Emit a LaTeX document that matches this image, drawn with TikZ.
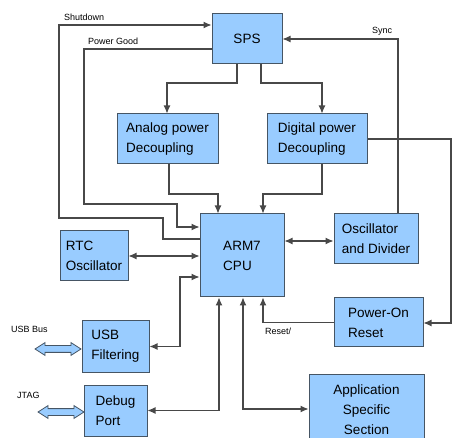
\documentclass[tikz,border=0pt]{standalone}
\usepackage{fontspec}
\setmainfont{Liberation Sans}
\usepackage{tikz}
\usetikzlibrary{arrows.meta,shapes.arrows}

\definecolor{boxfill}{RGB}{153,204,255}
\definecolor{boxline}{RGB}{70,85,100}
\definecolor{wirecol}{RGB}{72,72,72}
\newcommand{\boxfont}{\fontsize{13.5}{20}\selectfont}
\newcommand{\sigfont}{\fontsize{9}{10}\selectfont}

\begin{document}
\begin{tikzpicture}[x=1pt,y=-1pt,>={Latex[length=8pt,width=7pt]}]
\tikzstyle{block} = [draw=boxline,fill=boxfill,line width=1pt,inner sep=0pt,align=left,font=\boxfont]
\tikzstyle{sigtext} = [font=\sigfont,inner sep=0pt,anchor=base west]
\tikzstyle{wire} = [draw=wirecol,line width=1.1pt]
\tikzstyle{bus} = [double arrow,draw=boxline,fill=boxfill,line width=0.8pt,inner xsep=0pt,inner ysep=3pt,
	minimum height=46pt,double arrow head extend=3pt,double arrow tip angle=65]
\clip (0,0) rectangle (474,438);
\path (247,39) node [block,minimum width=70pt,minimum height=50pt] (sps) {SPS}
		(167.5,139) node [block,minimum width=101pt,minimum height=50pt] (analog) {Analog power\\Decoupling}
		(317,139) node [block,minimum width=100pt,minimum height=50pt] (digital) {Digital power\\Decoupling}
		(242,255.5) node [block,minimum width=84pt,minimum height=83pt] (arm) {ARM7\\CPU}
		(376,239) node [block,minimum width=84pt,minimum height=50pt] (osc) {Oscillator\\and Divider}
		(94,256) node [block,minimum width=68pt,minimum height=50pt] (rtc) {RTC\\Oscillator}
		(378.5,322.5) node [block,minimum width=89pt,minimum height=49pt] (por) {Power-On\\Reset}
		(115.5,346.5) node [block,minimum width=67pt,minimum height=51pt] (usb) {USB\\Filtering}
		(115.5,410.5) node [block,minimum width=63pt,minimum height=51pt] (debug) {Debug\\Port}
		(366.5,410) node [block,align=center,minimum width=115pt,minimum height=72pt] (app) {Application\\Specific\\Section};

	\path (58,349) node [bus] (usbbus) {}
		(61,412) node [bus] (jtag) {};

	\path (64,21) node [sigtext] {Shutdown}
		(88,45) node [sigtext] {Power Good}
		(372,34) node [sigtext] {Sync}
		(265,335) node [sigtext] {Reset/}
		(11,333) node [sigtext] {USB Bus}
		(17,398) node [sigtext] {JTAG};

	\draw[wire,->] (arm.west |- 0,239) -| (163,218) -| (59,25) -- (sps.west |- 0,25);
	\draw[wire,->] (sps.west |- 0,49) -| (84,204) -| (177,227) -- (arm.west |- 0,227);
	\draw[wire,->] (sps.south -| 237,0) |- (167,83) -- (analog.north -| 167,0);
	\draw[wire,->] (sps.south -| 261,0) |- (322,83) -- (digital.north -| 322,0);
	\draw[wire,->] (analog.south -| 169,0) |- (218,194) -- (arm.north -| 218,0);
	\draw[wire,->] (digital.south -| 322,0) |- (263,194) -- (arm.north -| 263,0);
	\draw[wire,->] (osc.north -| 398,0) |- (sps.east);
	\draw[wire,->] (digital.east) -| (451,323) -- (por.east |- 0,323);
	\draw[wire,<->] (arm.east |- 0,241) -- (osc.west |- 0,241);
	\draw[wire,<->] (rtc.east) -- (arm.west |- rtc.east);
	\draw[wire,<->] (usb.east) -| (180,277) -- (arm.west |- 0,277);
	\draw[wire,<->] (debug.east) -| (arm.south -| 219,0);
	\draw[wire,<->] (arm.south -| 243,0) |- (app.west |- 0,409);
	\draw[wire,->] (por.west) -| (arm.south -| 263,0);
\end{tikzpicture}
\end{document}
